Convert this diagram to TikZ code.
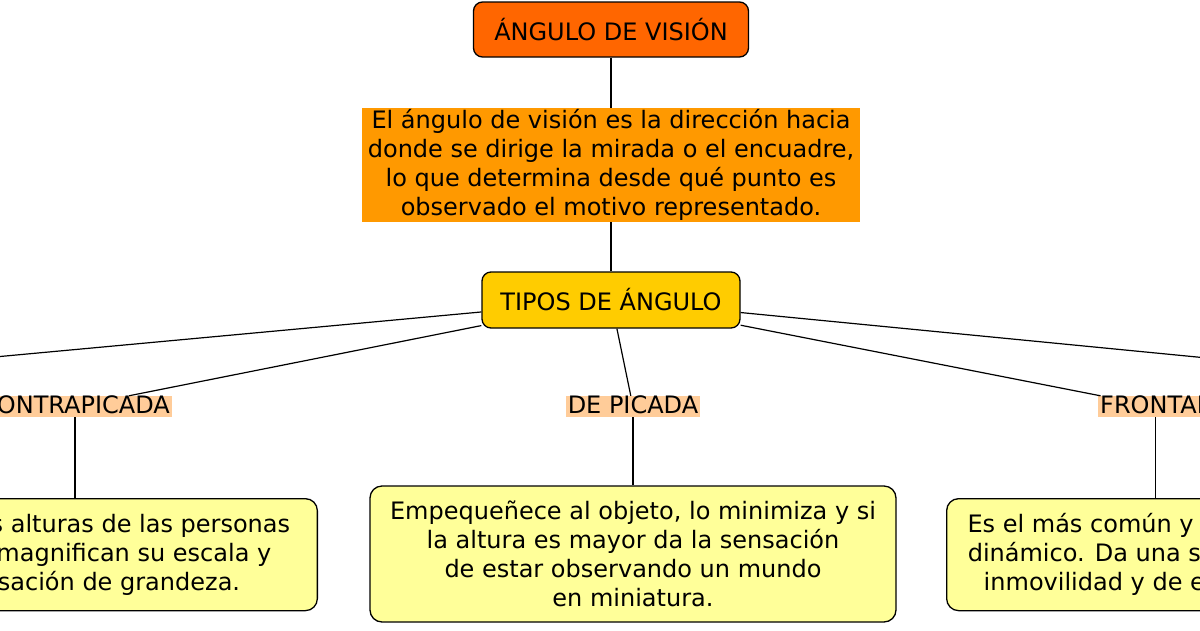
\documentclass[tikz,border=0pt]{standalone}
\usepackage{fontspec}
\setmainfont{DejaVu Sans}
\definecolor{topc}{HTML}{FF6600}
\definecolor{descc}{HTML}{FF9900}
\definecolor{tiposc}{HTML}{FFCC00}
\definecolor{labc}{HTML}{FFCC99}
\definecolor{boxc}{HTML}{FFFF99}
\begin{document}
\begin{tikzpicture}[x=1pt,y=-1pt,
  every node/.style={font=\fontsize{24}{29}\selectfont, text=black, align=center, inner sep=0pt},
  conn/.style={draw=black, line width=1.2pt},
  topbox/.style={draw=black, line width=1.3pt, fill=topc, rounded corners=9pt, minimum width=275pt, minimum height=55pt},
  descbox/.style={fill=descc, minimum width=498pt, minimum height=114pt},
  tiposbox/.style={draw=black, line width=1.3pt, fill=tiposc, rounded corners=9pt, minimum width=258pt, minimum height=56pt},
  lab/.style={fill=labc, inner xsep=2pt, minimum height=21pt, text height=16pt, text depth=3pt},
  ybox/.style={draw=black, line width=1.3pt, fill=boxc, rounded corners=12pt}
]
\useasboundingbox (0,0) rectangle (1200,630);
\clip (0,0) rectangle (1200,630);
\fill[white] (0,0) rectangle (1200,630);

\node[topbox] (top) at (611,29.5) {ÁNGULO DE VISIÓN};
\node[descbox] (desc) at (611,165) {El ángulo de visión es la dirección hacia\\donde se dirige la mirada o el encuadre,\\lo que determina desde qué punto es\\observado el motivo representado.};
\node[tiposbox] (tipos) at (611,300) {TIPOS DE ÁNGULO};

\node[lab, anchor=east] (contra) at (172,406.5) {CONTRAPICADA};
\node[lab] (picada) at (633,406.5) {DE PICADA};
\node[lab, anchor=west] (frontal) at (1098,406.5) {FRONTAL};

\coordinate (offL) at (-427,396);
\coordinate (offR) at (1597,396);

\node[ybox, anchor=north east, minimum width=492pt, minimum height=112pt] (lbox) at (318,498) {Aumenta las alturas de las personas\\y objetos, magnifican su escala y\\dan sensación de grandeza.};
\node[ybox, minimum width=526pt, minimum height=136pt] (mbox) at (633,554) {Empequeñece al objeto, lo minimiza y si\\la altura es mayor da la sensación\\de estar observando un mundo\\en miniatura.};
\node[ybox, anchor=north west, minimum width=420pt, minimum height=112pt] (rbox) at (946,498) {Es el más común y es el menos\\dinámico. Da una sensación de\\inmovilidad y de estabilidad.};

\draw[conn] (top) -- (desc);
\draw[conn] (desc) -- (tipos);
\draw[conn] (tipos) -- (offL);
\draw[conn] (tipos) -- (contra);
\draw[conn] (tipos) -- (picada);
\draw[conn] (tipos) -- (frontal);
\draw[conn] (tipos) -- (offR);
\draw[conn] (contra) -- (contra |- lbox.north);
\draw[conn] (picada) -- (mbox);
\draw[conn] (frontal) -- (frontal |- rbox.north);
\end{tikzpicture}
\end{document}
